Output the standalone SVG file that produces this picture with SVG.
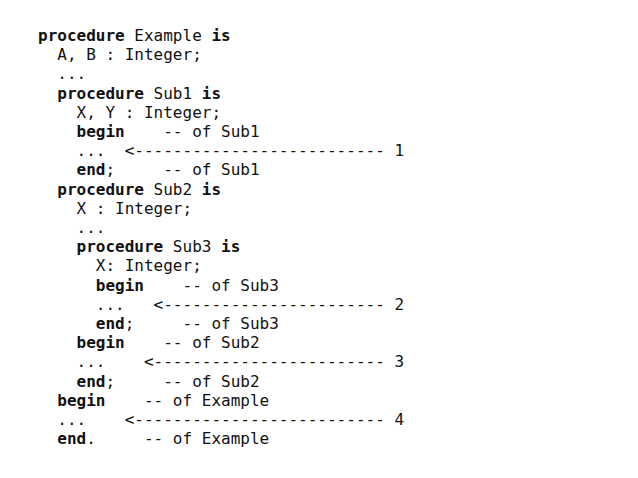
<svg xmlns="http://www.w3.org/2000/svg" width="638" height="478" viewBox="0 0 638 478">
<style>
text{font-family:"DejaVu Sans Mono",monospace;font-size:16px;fill:#111;white-space:pre}
.k{font-weight:bold}
</style>
<rect width="638" height="478" fill="#fff"/>
<g id="code" xml:space="preserve">
<text x="38" y="41"><tspan class="k">procedure</tspan> Example <tspan class="k">is</tspan></text>
<text x="38" y="60.2">  A, B : Integer;</text>
<text x="38" y="79.4">  ...</text>
<text x="38" y="98.6">  <tspan class="k">procedure</tspan> Sub1 <tspan class="k">is</tspan></text>
<text x="38" y="117.8">    X, Y : Integer;</text>
<text x="38" y="137">    <tspan class="k">begin</tspan>    -- of Sub1</text>
<text x="38" y="156.2">    ...  &lt;-------------------------- 1</text>
<text x="38" y="175.4">    <tspan class="k">end</tspan>;     -- of Sub1</text>
<text x="38" y="194.6">  <tspan class="k">procedure</tspan> Sub2 <tspan class="k">is</tspan></text>
<text x="38" y="213.8">    X : Integer;</text>
<text x="38" y="233">    ...</text>
<text x="38" y="252.2">    <tspan class="k">procedure</tspan> Sub3 <tspan class="k">is</tspan></text>
<text x="38" y="271.4">      X: Integer;</text>
<text x="38" y="290.6">      <tspan class="k">begin</tspan>    -- of Sub3</text>
<text x="38" y="309.8">      ...   &lt;----------------------- 2</text>
<text x="38" y="329">      <tspan class="k">end</tspan>;     -- of Sub3</text>
<text x="38" y="348.2">    <tspan class="k">begin</tspan>    -- of Sub2</text>
<text x="38" y="367.4">    ...    &lt;------------------------ 3</text>
<text x="38" y="386.6">    <tspan class="k">end</tspan>;     -- of Sub2</text>
<text x="38" y="405.8">  <tspan class="k">begin</tspan>    -- of Example</text>
<text x="38" y="425">  ...    &lt;-------------------------- 4</text>
<text x="38" y="444.2">  <tspan class="k">end</tspan>.     -- of Example</text>
</g>
</svg>
